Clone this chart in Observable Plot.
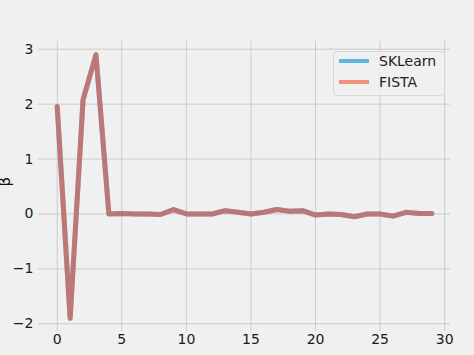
<!DOCTYPE html>
<html>
<head>
<meta charset="utf-8">
<script src="https://cdn.jsdelivr.net/npm/d3@7"></script>
<script src="https://cdn.jsdelivr.net/npm/@observablehq/plot@0.6"></script>
<style>
  html, body { margin: 0; padding: 0; background: #f0f0f0; }
  #wrap { position: relative; width: 474px; height: 355px; overflow: hidden; font-family: "DejaVu Sans", sans-serif; }
  #legend { position: absolute; left: 333px; top: 51px; width: 112px; height: 45px; border: 1px solid #d8d8d8; border-radius: 4px; background: rgba(240,240,240,0.8); box-sizing: border-box; }
  .item { position: absolute; left: 5px; display: flex; align-items: center; font-size: 14px; color: #222; }
  .sw { width: 30px; height: 4px; margin-right: 10px; }
</style>
</head>
<body>
<div id="wrap"></div>
<script>
const coefIndex = [0,1,2,3,4,5,6,7,8,9,10,11,12,13,14,15,16,17,18,19,20,21,22,23,24,25,26,27,28,29];
const sklearn = [1.95,-1.9,2.08,2.9,0.0,0.01,0.0,0.0,-0.01,0.08,0.0,0.0,0.0,0.06,0.03,0.0,0.03,0.08,0.05,0.06,-0.02,0.0,-0.01,-0.05,0.0,0.0,-0.04,0.03,0.01,0.01];
const fista = [1.95,-1.9,2.08,2.9,0.0,0.01,0.0,0.0,-0.01,0.08,0.0,0.0,0.0,0.06,0.03,0.0,0.03,0.08,0.05,0.06,-0.02,0.0,-0.01,-0.05,0.0,0.0,-0.04,0.03,0.01,0.01];
const seriesNames = ["SKLearn", "FISTA"];
const seriesColors = ["#30a2da", "#fc4f30"];
const seriesOpacity = [0.75, 0.6];
const xTicks = [0,5,10,15,20,25,30];
const yTicks = [-2,-1,0,1,2,3];

const skData = coefIndex.map((i, k) => ({x: i, y: sklearn[k]}));
const fiData = coefIndex.map((i, k) => ({x: i, y: fista[k]}));
const fmt = d => String(d).replace("-", "\u2212");

const chart = Plot.plot({
  width: 474,
  height: 355,
  marginLeft: 38,
  marginRight: 24,
  marginTop: 41,
  marginBottom: 24,
  style: { background: "#f0f0f0", fontFamily: "DejaVu Sans, sans-serif", fontSize: "14px", color: "#222", overflow: "visible" },
  x: { domain: [-1.45, 30.45], ticks: xTicks, label: null },
  y: { domain: [-2.14, 3.14], ticks: yTicks, label: null },
  marks: [
    Plot.gridX(xTicks, { stroke: "#cbcbcb", strokeOpacity: 1, strokeWidth: 1 }),
    Plot.gridY(yTicks, { stroke: "#cbcbcb", strokeOpacity: 1, strokeWidth: 1 }),
    Plot.axisX(xTicks, { tickSize: 0, tickPadding: 3, fontSize: 14, fill: "#1a1a1a", label: null, tickFormat: fmt }),
    Plot.axisY(yTicks, { tickSize: 0, tickPadding: 5, fontSize: 14, fill: "#1a1a1a", label: null, tickFormat: fmt }),
    Plot.line(skData, { x: "x", y: "y", stroke: seriesColors[0], strokeOpacity: seriesOpacity[0], strokeWidth: 5 }),
    Plot.line(fiData, { x: "x", y: "y", stroke: seriesColors[1], strokeOpacity: seriesOpacity[1], strokeWidth: 5 }),
    Plot.text(["Coefficients"], { frameAnchor: "bottom", dy: 28, text: d => d, fontSize: 15, fill: "#111", fontWeight: "bold", lineAnchor: "top" }),
    Plot.text(["β"], { frameAnchor: "left", dx: -33, rotate: -90, text: d => d, fontSize: 15, fill: "#111" })
  ]
});
const wrap = document.getElementById("wrap");
wrap.appendChild(chart);

const legend = document.createElement("div");
legend.id = "legend";
seriesNames.forEach((name, i) => {
  const it = document.createElement("div");
  it.className = "item";
  it.style.top = (i === 0 ? 1 : 22) + "px";
  const sw = document.createElement("span");
  sw.className = "sw";
  sw.style.background = seriesColors[i];
  sw.style.opacity = seriesOpacity[i];
  const t = document.createElement("span");
  t.textContent = name;
  it.appendChild(sw);
  it.appendChild(t);
  legend.appendChild(it);
});
wrap.appendChild(legend);
</script>
</body>
</html>
